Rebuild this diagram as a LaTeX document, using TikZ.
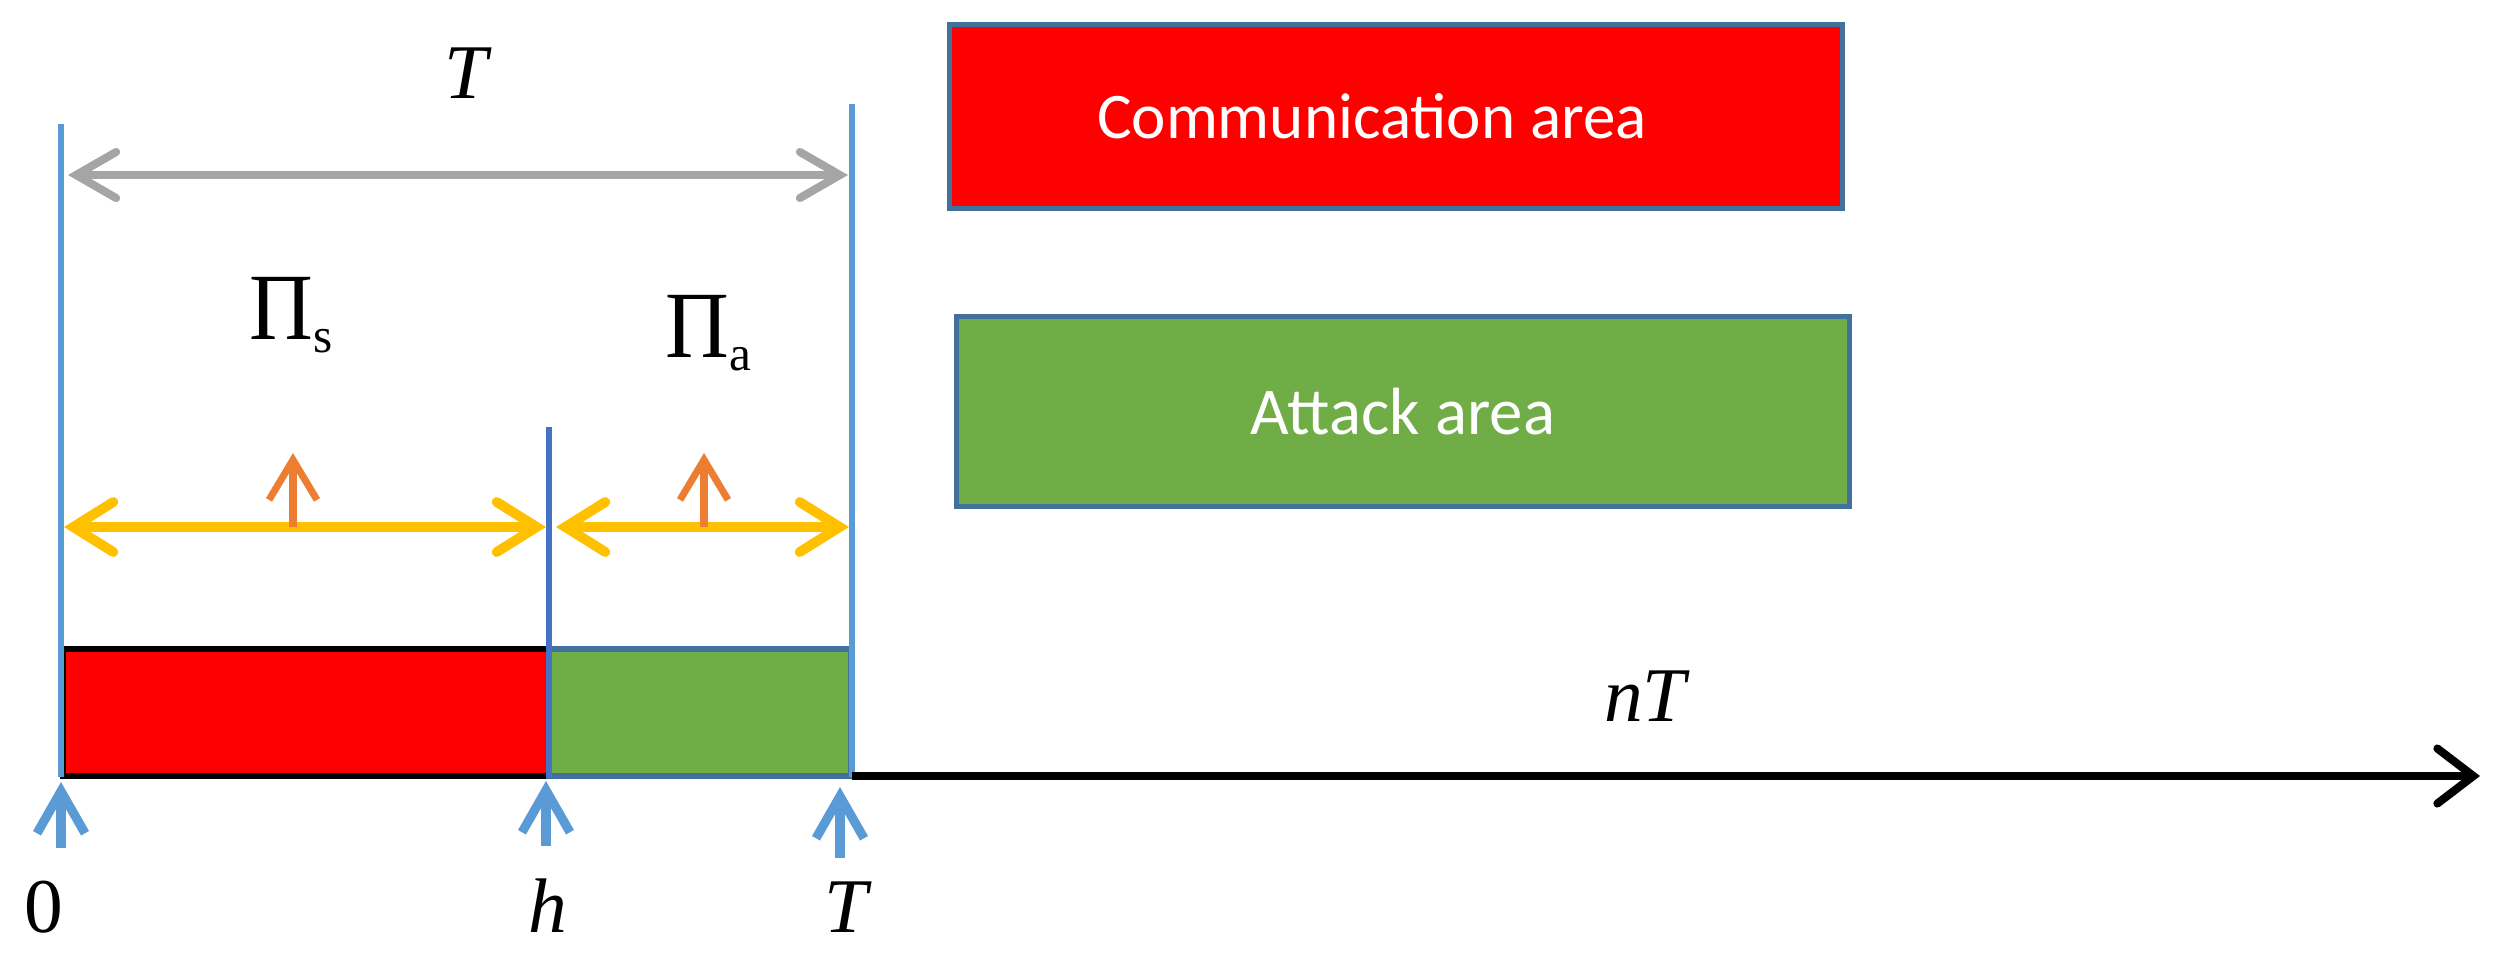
\documentclass[tikz,border=0pt]{standalone}
\usepackage{fontspec}
\setmainfont{Liberation Serif}
\newfontfamily\calib{Carlito}
\usetikzlibrary{arrows.meta}
\definecolor{cred}{HTML}{FF0000}
\definecolor{cgreen}{HTML}{70AD47}
\definecolor{cborder}{HTML}{41719C}
\definecolor{cblue}{HTML}{5B9BD5}
\definecolor{cdblue}{HTML}{4472C4}
\definecolor{cgray}{HTML}{A5A5A5}
\definecolor{cyellow}{HTML}{FFC000}
\definecolor{corange}{HTML}{ED7D31}
\newcommand{\PiSub}[1]{\scalebox{0.93}[1]{\fontsize{27}{27}\selectfont Π}\raisebox{-0.13cm}{\fontsize{14}{14}\selectfont #1}}
\tikzset{
  lbl/.style={font=\fontsize{22}{22}\selectfont\itshape, inner sep=0pt},
  pilbl/.style={inner sep=0pt},
  legendbox/.style={draw=cborder, line width=1.5pt, minimum width=8.92cm, minimum height=1.84cm, inner sep=0pt, text=white, font=\calib\fontsize{19}{19}\selectfont},
  vline/.style={draw=cblue, line width=1.9pt},
  grayarr/.style={draw=cgray, line width=2.3pt, {Straight Barb[length=0.4cm,width=0.46cm,line cap=round]}-{Straight Barb[length=0.4cm,width=0.46cm,line cap=round]}},
  yelarr/.style={draw=cyellow, line width=2.8pt, {Straight Barb[length=0.4cm,width=0.5cm,line cap=round]}-{Straight Barb[length=0.4cm,width=0.5cm,line cap=round]}},
  orarr/.style={draw=corange, line width=2pt, -{Straight Barb[length=0.4cm,width=0.48cm]}},
  bluearr/.style={draw=cblue, line width=2.6pt, -{Straight Barb[length=0.42cm,width=0.48cm]}},
  axisarr/.style={draw=black, line width=2.3pt, -{Straight Barb[length=0.36cm,width=0.55cm,line cap=round]}},
}
\begin{document}
\begin{tikzpicture}[x=0.01cm,y=-0.01cm]
\useasboundingbox (0,0) rectangle (2501,966);
% legend boxes
\node[legendbox, fill=cred, anchor=north west, font=\calib\fontsize{18.5}{18.5}\selectfont] (comm) at (947,22) {\hspace*{-0.48cm}Communication area};
\node[legendbox, fill=cgreen, anchor=north west, minimum height=1.9cm] (att) at (954,314) {Attack area};
% timeline blocks
\draw[fill=cred, draw=black, line width=1.7pt] (63,649) rectangle (549,776);
\draw[fill=cgreen, draw=cborder, line width=1.6pt] (549,649) rectangle (851,776);
% key coordinates
\coordinate (l0top) at (61,124);
\coordinate (l0bot) at (61,777);
\coordinate (lTtop) at (852,104);
\coordinate (lTbot) at (852,777);
\coordinate (lhtop) at (549,427);
\coordinate (lhbot) at (549,777);
\coordinate (axstart) at (852,776);
\coordinate (axend) at (2480,776);
% vertical lines
\draw[vline] (l0top) -- (l0bot);
\draw[vline] (lTtop) -- (lTbot);
\draw[draw=cdblue, line width=1.9pt] (lhtop) -- (lhbot);
% axis
\draw[axisarr] (axstart) -- (axend);
% gray T arrow
\coordinate (gl) at (68,175);
\coordinate (gr) at (848,175);
\draw[grayarr] (gl) -- (gr);
% yellow arrows
\coordinate (y1l) at (64,527);
\coordinate (y1r) at (546,527);
\coordinate (y2l) at (556,527);
\coordinate (y2r) at (849,527);
\draw[yelarr] (y1l) -- (y1r);
\draw[yelarr] (y2l) -- (y2r);
% orange arrows
\coordinate (o1b) at (293,527);
\coordinate (o1t) at (293,453);
\coordinate (o2b) at (704,527);
\coordinate (o2t) at (704,453);
\draw[orarr] (o1b) -- (o1t);
\draw[orarr] (o2b) -- (o2t);
% blue up arrows
\coordinate (b0b) at (61,848);
\coordinate (b0t) at (61,782);
\coordinate (bhb) at (546,846);
\coordinate (bht) at (546,781);
\coordinate (bTb) at (840,858);
\coordinate (bTt) at (840,787);
\draw[bluearr] (b0b) -- (b0t);
\draw[bluearr] (bhb) -- (bht);
\draw[bluearr] (bTb) -- (bTt);
% labels
\node[lbl, anchor=base] (tT) at (466,98) {T};
\node[pilbl, anchor=base west] (pis) at (249,339) {\PiSub{s}};
\node[pilbl, anchor=base west] (pia) at (665,357) {\PiSub{a}};
\node[lbl, font=\fontsize{22}{22}\selectfont, anchor=base] (l0) at (44,932) {0};
\node[lbl, anchor=base] (lh) at (548,932) {h};
\node[lbl, anchor=base] (lT) at (846,932) {T};
\node[lbl, anchor=base] (lnT) at (1645,721) {nT};
\end{tikzpicture}
\end{document}
